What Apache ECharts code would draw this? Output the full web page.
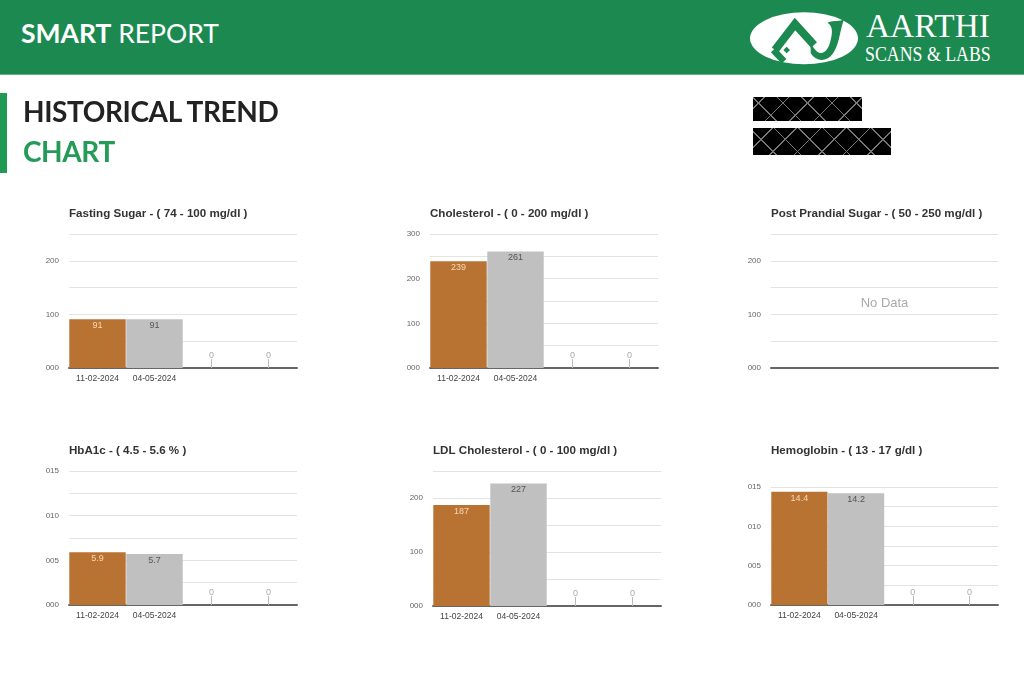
<!DOCTYPE html>
<html>
<head>
<meta charset="utf-8">
<script src="https://cdn.jsdelivr.net/npm/echarts@6/dist/echarts.min.js"></script>
<style>
  html, body { margin: 0; padding: 0; background: #fff; }
  body { width: 1024px; height: 694px; position: relative; overflow: hidden; font-family: Lato, "Open Sans", sans-serif; }
  #charts { position: absolute; left: 0; top: 0; width: 1024px; height: 694px; z-index: 0; }
  .hdr { position: absolute; left: 0; top: 0; width: 1024px; height: 74px; background: #1c8a50; border-bottom: 1px solid #5fb385; z-index: 1; }
  .brand { position: absolute; left: 21px; top: 16px; color: #fff; font-size: 26.5px; line-height: 34px; letter-spacing: 0; }
  .brand b { font-weight: 700; }
  .logo { position: absolute; left: 740px; top: 0; width: 284px; height: 74px; }
  .aarthi { position: absolute; left: 866px; top: 7px; color: #fff; font-family: "Liberation Serif", serif; font-size: 34px; line-height: 38px; transform: scaleX(0.98); transform-origin: left; }
  .scans { position: absolute; left: 865px; top: 41px; color: #fff; font-family: "Liberation Serif", serif; font-size: 22px; line-height: 26px; transform: scaleX(0.81); transform-origin: left; }
  .accent { position: absolute; left: 0; top: 93px; width: 7px; height: 80px; background: #1e9a55; z-index: 1; }
  .h1 { position: absolute; left: 23px; top: 93px; font-size: 28px; line-height: 36px; font-weight: 700; color: #222; z-index: 1; letter-spacing: -0.4px; }
  .h2 { position: absolute; left: 23px; top: 133px; font-size: 28px; line-height: 36px; font-weight: 700; color: #259b57; z-index: 1; letter-spacing: -0.4px; }
  .redact { position: absolute; background-color: #000; z-index: 1;
    background-image: repeating-linear-gradient(45deg, transparent 0, transparent 16px, #777 16px, #777 17.3px),
                      repeating-linear-gradient(-45deg, transparent 0, transparent 16px, #777 16px, #777 17.3px); }
</style>
</head>
<body>
<div id="charts"></div>
<div class="hdr">
  <div class="brand"><b>SMART</b> REPORT</div>
  <svg class="logo" viewBox="0 0 852 222">
    <ellipse cx="192" cy="115" rx="162" ry="78" fill="#fff"/>
    <path d="M105 150 L165 72 L222 135" fill="none" stroke="#1c8a50" stroke-width="24" stroke-linejoin="miter"/>
    <path d="M100 150 L132 184" fill="none" stroke="#1c8a50" stroke-width="20"/>
    <path d="M140 140 L150 150 L140 160 L130 150 Z" fill="#1c8a50"/>
    <path d="M212 128 C235 175 262 165 272 120 C280 90 275 75 262 68 C285 60 300 66 312 58 C300 90 300 120 285 150 C268 185 232 190 212 160 Z" fill="#1c8a50"/>
  </svg>
  <div class="aarthi">AARTHI</div>
  <div class="scans">SCANS &amp; LABS</div>
</div>
<div class="accent"></div>
<div class="h1">HISTORICAL TREND</div>
<div class="h2">CHART</div>
<div class="redact" style="left:753px;top:97px;width:109px;height:24px;"></div>
<div class="redact" style="left:753px;top:128px;width:138px;height:27px;"></div>
<script>
var dates = ['11-02-2024', '04-05-2024', '', ''];
var fastingSugar = [91, 91, 0, 0];
var cholesterol = [239, 261, 0, 0];
var postPrandial = [];
var hba1c = [5.9, 5.7, 0, 0];
var ldl = [187, 227, 0, 0];
var hemoglobin = [14.4, 14.2, 0, 0];

var barColors = ['#b87333', '#c0c0c0', '#d4af37', '#c0c0c0'];
var labelColors = ['#fbd9b0', '#555555', '#aaaaaa', '#aaaaaa'];

var charts = [
  { name: 'Fasting Sugar - ( 74 - 100 mg/dl )', values: fastingSugar, max: 250, step: 50, left: 69, top: 234, width: 228, height: 134, tTop: 208 },
  { name: 'Cholesterol - ( 0 - 200 mg/dl )', values: cholesterol, max: 300, step: 50, left: 430, top: 234, width: 228, height: 134, tTop: 208 },
  { name: 'Post Prandial Sugar - ( 50 - 250 mg/dl )', values: postPrandial, max: 250, step: 50, left: 771, top: 234, width: 227, height: 134, tTop: 208 },
  { name: 'HbA1c - ( 4.5 - 5.6 % )', values: hba1c, max: 15, step: 2.5, left: 69, top: 471, width: 228, height: 134, tTop: 445 },
  { name: 'LDL Cholesterol - ( 0 - 100 mg/dl )', values: ldl, max: 250, step: 50, left: 433, top: 471, width: 228, height: 135, tTop: 445 },
  { name: 'Hemoglobin - ( 13 - 17 g/dl )', values: hemoglobin, max: 15, step: 2.5, left: 771, top: 487, width: 227, height: 118, tTop: 445 }
];

var myChart = echarts.init(document.getElementById('charts'), null, { renderer: 'canvas' });
var option = { animation: false, title: [], grid: [], xAxis: [], yAxis: [], series: [], graphic: [] };

charts.forEach(function (c, i) {
  option.title.push({
    text: c.name, left: c.left, top: c.tTop, padding: 0,
    textStyle: { fontFamily: 'Liberation Sans, Arial', fontSize: 11.6, fontWeight: 'bold', color: '#333' }
  });
  option.grid.push({ left: c.left, top: c.top, width: c.width, height: c.height, containLabel: false });
  var empty = c.values.length === 0;
  option.xAxis.push({
    type: 'category', gridIndex: i, data: empty ? [] : dates,
    axisLine: { lineStyle: { color: '#666', width: 2 } },
    axisTick: { show: !empty, inside: true, length: 9, alignWithLabel: true, lineStyle: { color: '#bbb' } },
    axisLabel: { fontFamily: 'Liberation Sans, Arial', fontSize: 8.5, color: '#444', margin: 6, interval: 0 }
  });
  option.yAxis.push({
    type: 'value', gridIndex: i, min: 0, max: c.max, interval: c.step,
    axisLine: { show: false }, axisTick: { show: false },
    splitLine: { lineStyle: { color: '#e3e3e3' } },
    axisLabel: {
      fontFamily: 'Liberation Sans, Arial', fontSize: 8, color: '#666', margin: 10,
      formatter: function (v) { return v % (c.step * 2) === 0 ? String(v).padStart(3, '0') : ''; }
    }
  });
  option.series.push({
    type: 'bar', xAxisIndex: i, yAxisIndex: i, barCategoryGap: '1%',
    label: { show: true, position: 'insideTop', distance: 2, fontFamily: 'Liberation Sans, Arial', fontSize: 9 },
    data: c.values.map(function (v, k) {
      return {
        value: v,
        itemStyle: { color: barColors[k] },
        label: v === 0 ? { position: 'top', distance: 8, color: labelColors[k] } : { color: labelColors[k] }
      };
    })
  });
  if (empty) {
    option.graphic.push({
      type: 'text', x: c.left + c.width / 2, y: c.top + c.height / 2 + 2,
      style: { text: 'No Data', fontFamily: 'Liberation Sans, Arial', fontSize: 13, fill: '#aaa', align: 'center', verticalAlign: 'middle' }
    });
  }
});

option && myChart.setOption(option);
</script>
</body>
</html>
